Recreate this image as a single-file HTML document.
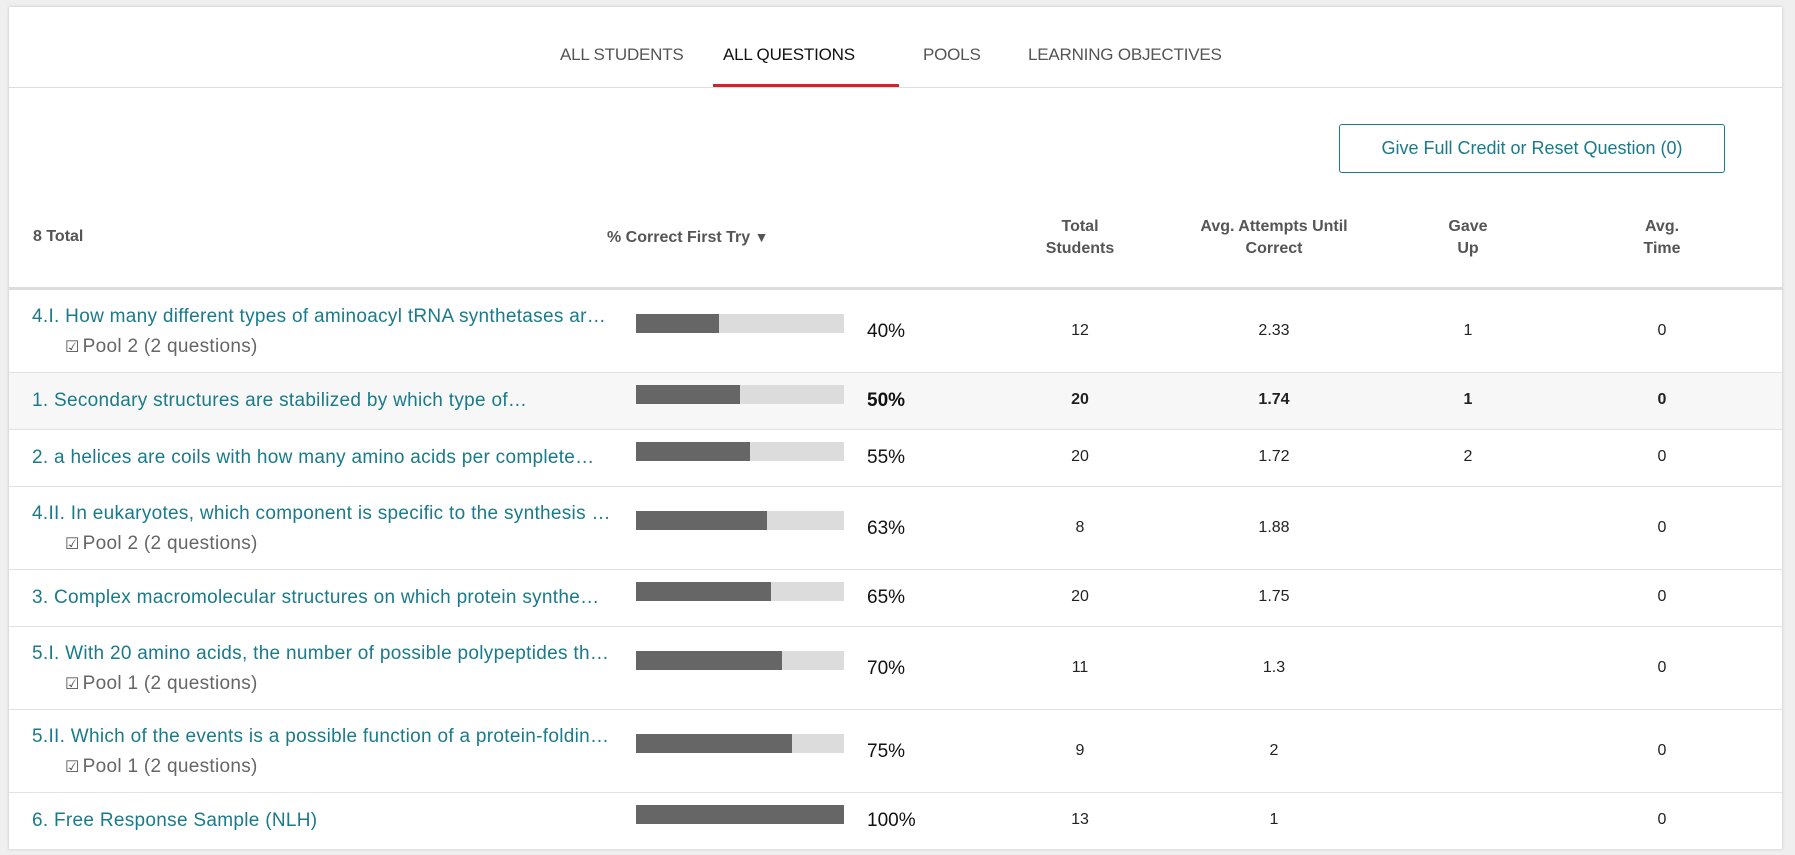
<!DOCTYPE html>
<html><head><meta charset="utf-8"><style>
body{margin:0;width:1795px;height:855px;background:#efefef;font-family:"Liberation Sans",sans-serif;overflow:hidden;position:relative}
#card{position:absolute;left:9px;top:7px;width:1773px;height:842px;background:#fff;box-shadow:0 0 3px rgba(0,0,0,.2)}
.tab{position:absolute;top:38px;font-size:17px;color:#555;letter-spacing:-0.2px}
.abs{position:absolute}
.hdr{position:absolute;font-size:16px;font-weight:bold;color:#555;text-align:center;line-height:22px}
.title{position:absolute;left:23px;white-space:nowrap;color:#1a7a8a;font-size:19px;letter-spacing:0.3px}
.pool{position:absolute;left:71px;color:#666;font-size:19px;letter-spacing:0.3px}
.num{position:absolute;width:100px;text-align:center;font-size:16px;color:#222}
.pct{position:absolute;left:858px;font-size:19px;color:#111}
</style></head><body>
<div id="card">
<div class="tab" style="left:551px">ALL STUDENTS</div>
<div class="tab" style="left:714px;color:#111">ALL QUESTIONS</div>
<div class="tab" style="left:914px">POOLS</div>
<div class="tab" style="left:1019px">LEARNING OBJECTIVES</div>
<div class="abs" style="left:704px;top:77px;width:186px;height:4px;background:#d2232a"></div>
<div class="abs" style="left:0;top:80px;width:1773px;height:1px;background:#ddd"></div>
<div class="abs" style="left:1330px;top:117px;width:386px;height:49px;border:1px solid #1a7a8a;border-radius:3px;box-sizing:border-box;color:#1a7a8a;font-size:18px;text-align:center;line-height:47px">Give Full Credit or Reset Question (0)</div>
<div class="hdr" style="left:24px;top:219px;text-align:left">8 Total</div>
<div class="hdr" style="left:598px;top:219px;text-align:left">% Correct First Try <span style="font-size:14px">▼</span></div>
<div class="hdr" style="left:1010px;top:209px;width:122px">Total<br>Students</div>
<div class="hdr" style="left:1145px;top:209px;width:240px">Avg. Attempts Until<br>Correct</div>
<div class="hdr" style="left:1409px;top:209px;width:100px">Gave<br>Up</div>
<div class="hdr" style="left:1603px;top:209px;width:100px">Avg.<br>Time</div>
<div class="abs" style="left:0;top:280px;width:1773px;height:3px;background:#ddd"></div>
<div id="rows"></div>
</div>
<script>
const titles=["4.I. How many different types of aminoacyl tRNA synthetases ar…","1. Secondary structures are stabilized by which type of…","2. a helices are coils with how many amino acids per complete…","4.II. In eukaryotes, which component is specific to the synthesis …","3. Complex macromolecular structures on which protein synthe…","5.I. With 20 amino acids, the number of possible polypeptides th…","5.II. Which of the events is a possible function of a protein-foldin…","6. Free Response Sample (NLH)"];
const pools=["Pool 2 (2 questions)","","","Pool 2 (2 questions)","","Pool 1 (2 questions)","Pool 1 (2 questions)",""];
const pctCorrect=[40,50,55,63,65,70,75,100];
const totalStudents=["12","20","20","8","20","11","9","13"];
const avgAttempts=["2.33","1.74","1.72","1.88","1.75","1.3","2","1"];
const gaveUp=["1","1","2","","","","",""];
const avgTime=["0","0","0","0","0","0","0","0"];
const barX=627,barW=208;
function xScale(v){return v/100*barW;}
const rowsEl=document.getElementById('rows');
let rowTop=283;
titles.forEach((t,i)=>{
  const hasPool=pools[i]!=="";
  const h=hasPool?83:57;
  const r=document.createElement('div');
  
  
  r.style.cssText=`position:absolute;left:0;top:${rowTop}px;width:1773px;height:${h}px;border-bottom:1px solid #e2e2e2;box-sizing:border-box;background:${i===1?'#f7f7f7':'#fff'};font-weight:${i===1?'bold':'normal'}`;
  const mid=hasPool?42:28;
  const ti=document.createElement('div');ti.className='title';ti.textContent=t;ti.style.top=(hasPool?16:17)+'px';ti.style.fontWeight='normal';
  
  
  r.appendChild(ti);
  if(hasPool){const p=document.createElement('div');p.className='pool';p.style.top='46px';p.style.fontWeight='normal';p.style.left='80px';
    p.innerHTML='<span style="font-size:16px;margin-left:-24px;margin-right:3px;color:#555">☑</span>'+pools[i];
    
    
    r.appendChild(p);}
  const bt=hasPool?24:12;
  const bg=document.createElement('div');bg.style.cssText=`position:absolute;left:${barX}px;top:${bt}px;width:${barW}px;height:19px;background:#dcdcdc`;
  
  
  r.appendChild(bg);
  const b=document.createElement('div');b.style.cssText=`position:absolute;left:${barX}px;top:${bt}px;width:${xScale(pctCorrect[i])}px;height:19px;background:#666`;
  
  
  r.appendChild(b);
  const pc=document.createElement('div');pc.className='pct';pc.textContent=pctCorrect[i]+'%';pc.style.top=(mid-11)+'px';
  
  
  r.appendChild(pc);
  [[totalStudents,1071],[avgAttempts,1265],[gaveUp,1459],[avgTime,1653]].forEach(([arr,cx])=>{
    const n=document.createElement('div');n.className='num';n.textContent=arr[i];n.style.left=(cx-50)+'px';n.style.top=(mid-10)+'px';
    
    
    r.appendChild(n);
  });
  rowsEl.appendChild(r);
  rowTop+=h;
});
</script>
</body></html>
